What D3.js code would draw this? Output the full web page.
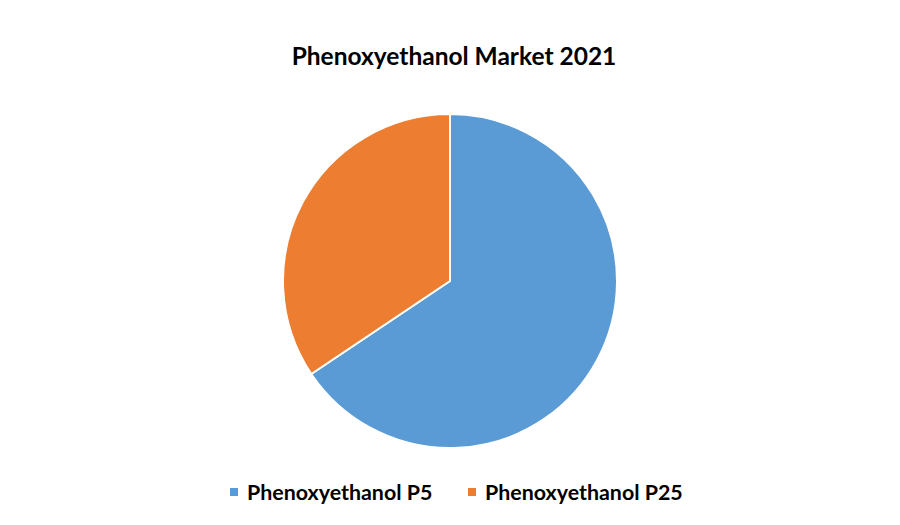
<!DOCTYPE html>
<html>
<head>
<meta charset="utf-8">
<script src="https://cdn.jsdelivr.net/npm/d3@7"></script>
<style>
  body { margin: 0; background: #ffffff; }
  svg { display: block; }
</style>
</head>
<body>
<svg id="chart" width="900" height="525"></svg>
<script>
// data
var categories = ["Phenoxyethanol P5", "Phenoxyethanol P25"];
var shares = [65.6, 34.4];
var colors = ["#5b9bd5", "#ed7d31"];
var title = "Phenoxyethanol Market 2021";

var width = 900, height = 525;
var cx = 450, cy = 281, radius = 167;

var svg = d3.select("#chart");

svg.append("text")
    .attr("x", 454)
    .attr("y", 65)
    .attr("text-anchor", "middle")
    .attr("font-family", "Lato, 'Open Sans', sans-serif")
    .attr("font-weight", "bold")
    .attr("font-size", 24.5)
    .attr("fill", "#000000")
    .text(title);

var colorScale = d3.scaleOrdinal()
    .domain(categories)
    .range(colors);

var pie = d3.pie().sort(null);
var piedata = pie(shares);

var arc = d3.arc()
    .innerRadius(0)
    .outerRadius(radius);

var pieGroup = svg.append("g")
    .attr("transform", `translate(${cx}, ${cy})`);

pieGroup.selectAll("path")
    .data(piedata)
    .join("path")
    .attr("d", d => arc(d))
    .attr("fill", (d, i) => colorScale(categories[i]))
    .attr("stroke", "#ffffff")
    .attr("stroke-width", 2)
    .attr("stroke-linejoin", "round");

// legend
var legendX = [230, 468];
var legend = svg.append("g");
var items = legend.selectAll("g")
    .data(categories)
    .join("g")
    .attr("transform", (d, i) => `translate(${legendX[i]}, 488)`);

items.append("rect")
    .attr("width", 8)
    .attr("height", 8)
    .attr("fill", d => colorScale(d));

items.append("text")
    .attr("x", 17)
    .attr("y", 12)
    .attr("font-family", "Lato, 'Open Sans', sans-serif")
    .attr("font-weight", "bold")
    .attr("font-size", 21.4)
    .attr("fill", "#000000")
    .text(d => d);
</script>
</body>
</html>
